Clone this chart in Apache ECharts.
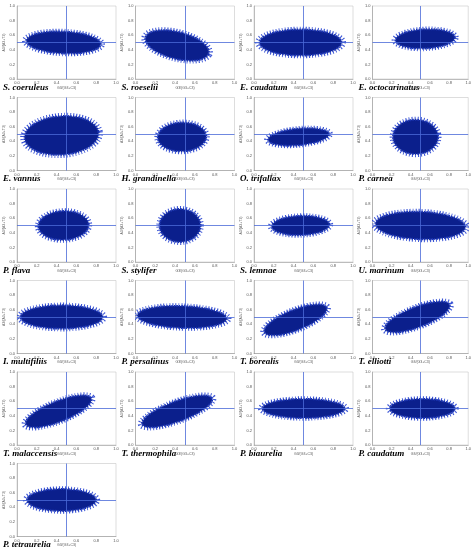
<!DOCTYPE html><html><head><meta charset="utf-8">
<script src="https://cdn.jsdelivr.net/npm/echarts@6/dist/echarts.min.js"></script>
<style>html,body{margin:0;background:#fff}#c{width:474px;height:550px}</style></head><body><div id="c"></div>
<script>
const species=["S. coeruleus","S. roeselii","E. caudatum","E. octocarinatus","E. vannus","H. grandinella","O. trifallax","P. carnea","P. flava","S. stylifer","S. lemnae","U. marinum","I. multifiliis","P. persalinus","T. borealis","T. elliotti","T. malaccensis","T. thermophila","P. biaurelia","P. caudatum","P. tetraurelia"];
// cloud extent: centre x, centre y, half-width, half-height, tilt (deg)
const cloudX=[0.47,0.42,0.47,0.55,0.45,0.47,0.45,0.45,0.47,0.45,0.47,0.50,0.45,0.47,0.42,0.47,0.42,0.42,0.50,0.52,0.45];
const cloudY=[0.50,0.46,0.50,0.55,0.48,0.46,0.46,0.46,0.50,0.50,0.50,0.50,0.50,0.50,0.46,0.50,0.46,0.46,0.50,0.50,0.50];
const cloudRX=[0.40,0.36,0.44,0.33,0.40,0.26,0.33,0.25,0.27,0.22,0.31,0.50,0.44,0.48,0.38,0.40,0.40,0.42,0.44,0.36,0.37];
const cloudRY=[0.16,0.19,0.19,0.14,0.28,0.21,0.12,0.25,0.21,0.24,0.14,0.20,0.17,0.16,0.14,0.14,0.14,0.14,0.14,0.14,0.16];
const cloudA=[-4,-22,0,4,8,5,8,10,5,0,3,-3,0,-3,30,28,30,28,0,0,0];
const ticks=["0.0","0.2","0.4","0.6","0.8","1.0"];
const refLine=0.5;
const grid=[],xAxis=[],yAxis=[],series=[],graphic=[];
species.forEach((s,i)=>{
 const col=i%4,row=Math.floor(i/4);
 const L=17+col*118.5,T=6+row*91.5,W=99,H=73;
 grid.push({left:L,top:T,width:W,height:H,show:true,borderColor:'#bbb',borderWidth:0.5,backgroundColor:'#fff'});
 const ax={gridIndex:i,min:0,max:1,interval:0.2,splitLine:{show:false},axisLine:{lineStyle:{color:'#888',width:0.5}},axisTick:{show:false},
  axisLabel:{fontSize:4,color:'#555',margin:2,formatter:v=>ticks[Math.round(v*5)]}};
 xAxis.push(Object.assign({},ax,{name:'G3/(G3+C3)',nameLocation:'middle',nameGap:6,nameTextStyle:{fontSize:3.5,color:'#555'}}));
 yAxis.push(Object.assign({},ax,{name:'A3/(A3+T3)',nameLocation:'middle',nameGap:9,nameTextStyle:{fontSize:3.5,color:'#555'}}));
 series.push({type:'custom',xAxisIndex:i,yAxisIndex:i,clip:true,data:[[cloudX[i],cloudY[i],cloudRX[i],cloudRY[i],cloudA[i]]],
  renderItem:(p,api)=>{const cx=api.value(0),cy=api.value(1),rx=api.value(2),ry=api.value(3),a=api.value(4)*Math.PI/180;
   const mk=(f)=>{const pts=[];for(let k=0;k<72;k++){const t=k/72*2*Math.PI;const ex=f*rx*Math.cos(t),ey=f*ry*Math.sin(t);
    pts.push(api.coord([cx+ex*Math.cos(a)-ey*Math.sin(a),cy+ex*Math.sin(a)+ey*Math.cos(a)]));}return pts;};
   return {type:'group',children:[
    {type:'polygon',shape:{points:mk(1),smooth:0.2},style:{fill:'none',stroke:'#3b55d6',lineWidth:4,lineDash:[1,2]}},
    {type:'polygon',shape:{points:mk(0.94),smooth:0.2},style:{fill:'#0b1f8c',stroke:'#1a33b0',lineWidth:2,lineDash:[1.5,1]}}]};},
  markLine:{silent:true,symbol:'none',label:{show:false},lineStyle:{color:'#4a6ad8',width:0.8,type:'solid'},data:[{xAxis:refLine},{yAxis:refLine}]},z:2});
 graphic.push({type:'text',left:L-14,top:T+H+4,style:{text:s,font:'italic bold 9px "Liberation Serif"',fill:'#000'}});
});
const ch=echarts.init(document.getElementById('c'));
ch.setOption({animation:false,grid,xAxis,yAxis,series,graphic});
</script></body></html>
